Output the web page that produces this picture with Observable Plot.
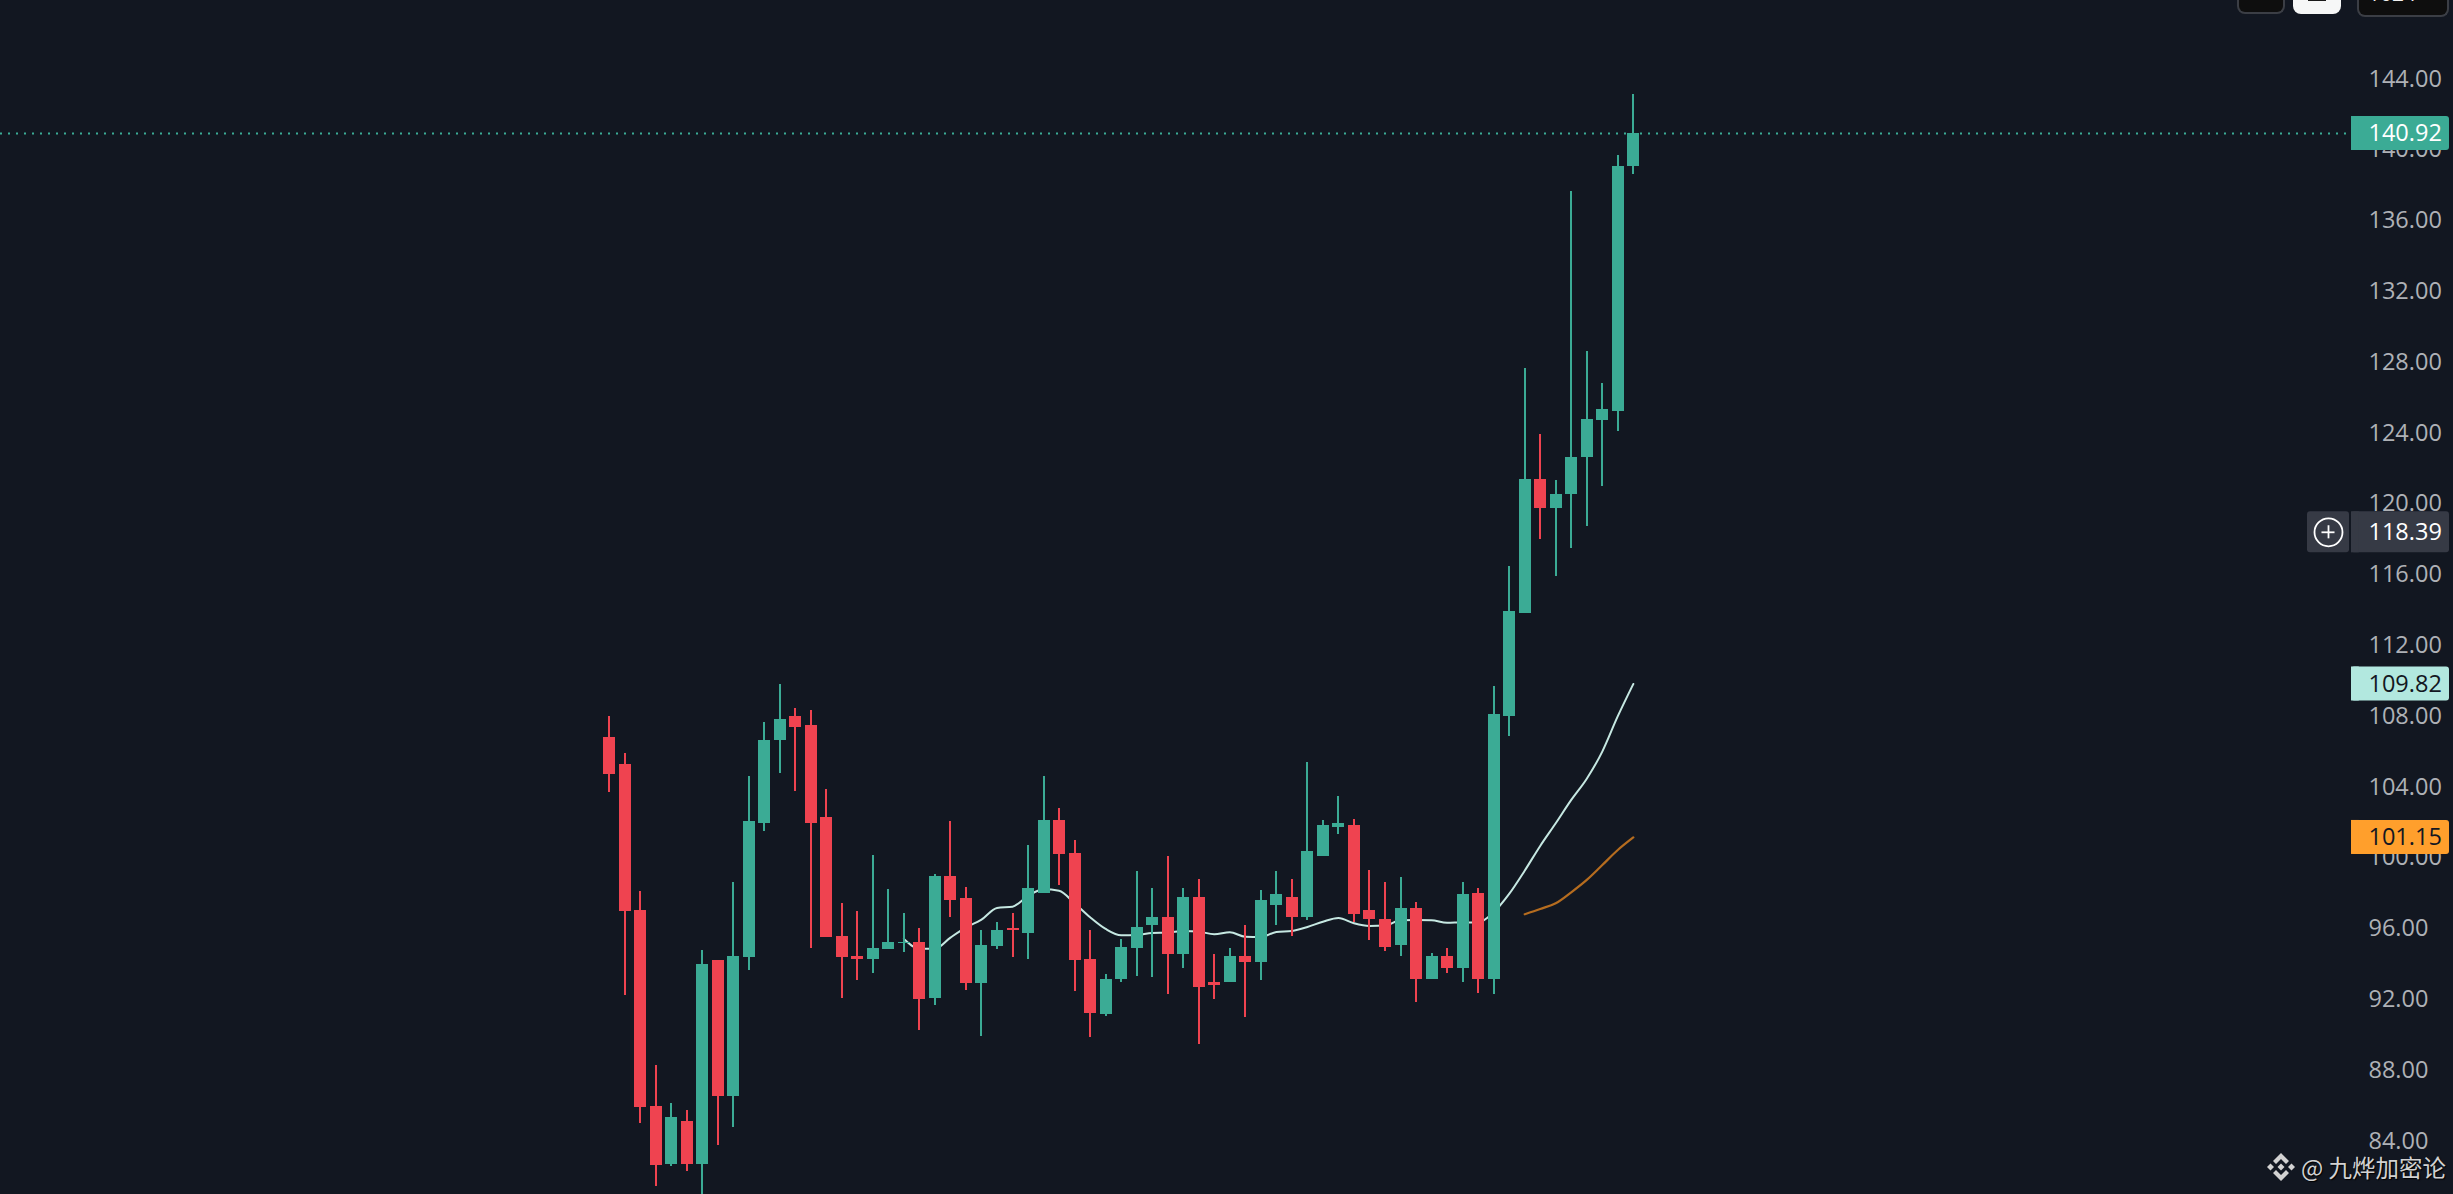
<!DOCTYPE html>
<html>
<head>
<meta charset="utf-8">
<script src="https://cdn.jsdelivr.net/npm/d3@7"></script>
<script src="https://cdn.jsdelivr.net/npm/@observablehq/plot@0.6"></script>
<style>
  html, body { margin: 0; padding: 0; background: #121721; overflow: hidden; }
  #wrap { position: relative; width: 2453px; height: 1194px; overflow: hidden; }
  #chart svg { display: block; }
  .btn { position: absolute; box-sizing: border-box; background: #0e0e0e; border: 2px solid #3b3e45; border-top: none; border-radius: 0 0 8px 8px; }
  #mark { position: absolute; left: 2301px; top: 1150px; color: #d2d2d2; font: 23.5px "Noto Sans CJK SC", sans-serif; white-space: nowrap; text-shadow: 1px 1px 1px #000; line-height: 34px; }
</style>
</head>
<body>
<div id="wrap">
  <div id="chart"></div>
  <div class="btn" style="left:2237px;top:-4px;width:48px;height:18px"></div>
  <div class="btn" style="left:2293px;top:-4px;width:48px;height:18px;background:#f6f7f7;border:none">
    <div style="position:absolute;left:15px;top:0;width:18px;height:5px;background:#1a1a1a"></div>
  </div>
  <div class="btn" style="left:2357px;top:-4px;width:92px;height:21px;color:#f0f0f0;font:21px 'Open Sans',sans-serif;overflow:hidden">
    <div style="position:absolute;left:9px;bottom:11px;line-height:21px">1024</div>
  </div>
  <svg style="position:absolute;left:2267px;top:1153px" width="28" height="28" viewBox="0 0 28 28" fill="#d2d2d2">
    <polygon points="14,0 22,8 19,11 14,6 9,11 6,8"/>
    <polygon points="14,28 22,20 19,17 14,22 9,17 6,20"/>
    <polygon points="14,10.5 17.5,14 14,17.5 10.5,14"/>
    <polygon points="3.5,10.5 7,14 3.5,17.5 0,14"/>
    <polygon points="24.5,10.5 28,14 24.5,17.5 21,14"/>
  </svg>
  <div id="mark">@ 九烨加密论</div>
</div>
<script>
// Candle values, oldest first (one entry per candle)
const opens = [106.77,105.25,97.05,85.97,82.70,85.12,82.70,94.22,86.49,94.34,101.96,106.65,107.96,107.50,102.25,95.53,94.45,94.28,94.84,95.13,95.19,92.03,98.92,97.72,92.88,95.01,96.03,95.70,98.01,102.08,100.22,94.23,91.17,93.15,94.85,96.15,96.60,94.51,97.78,92.93,92.98,94.40,94.11,97.33,97.78,96.65,100.10,101.74,101.85,97.05,96.54,95.02,97.16,93.15,94.40,93.72,97.96,93.10,107.96,113.83,121.40,119.76,120.55,122.64,124.73,125.24,139.03];
const closes = [104.73,96.94,85.91,82.64,85.30,82.70,93.99,86.49,94.40,102.07,106.65,107.79,107.38,101.96,95.48,94.34,94.28,94.90,95.19,95.24,91.97,98.92,97.61,92.88,95.07,95.92,95.92,98.24,102.13,100.16,94.17,91.23,93.15,94.96,96.09,96.65,94.51,97.78,92.70,92.81,94.40,94.11,97.56,97.90,96.65,100.33,101.80,101.91,96.82,96.49,94.96,97.16,93.15,94.40,93.72,97.90,93.10,108.12,113.89,121.40,119.71,120.55,122.64,124.79,125.30,139.03,140.92];
const highs = [107.96,105.87,98.07,88.24,86.14,85.70,94.74,94.22,98.63,104.61,107.62,109.77,108.46,108.35,103.88,97.44,96.99,100.15,98.19,96.88,96.03,99.03,102.07,98.34,95.92,96.32,96.88,100.72,104.62,102.81,100.95,95.87,93.43,95.36,99.20,98.29,100.10,98.29,98.75,94.51,94.85,96.15,98.18,99.20,98.80,105.41,102.13,103.49,102.19,99.31,98.58,98.86,97.50,94.57,94.85,98.58,98.24,109.65,116.43,127.62,123.89,121.29,137.62,128.63,126.77,139.70,143.15];
const lows = [103.71,92.24,85.01,81.41,82.58,82.26,81.00,83.72,84.74,93.61,101.46,104.79,103.77,94.90,95.48,92.03,93.09,93.49,94.84,94.63,90.22,91.68,96.64,92.53,89.93,94.84,94.34,94.28,98.01,98.41,92.47,89.87,91.06,92.98,93.27,93.21,92.30,93.72,89.43,91.97,92.98,91.00,93.04,96.20,95.58,96.43,100.10,101.29,96.32,95.30,94.68,94.40,91.85,93.15,93.49,92.98,92.31,92.25,106.83,113.83,118.01,115.92,117.50,118.69,120.95,124.06,138.63];

// Moving averages: first candle index, then values
const maFastStart = 19;
const maFast = [95.42,94.86,94.86,95.49,96.07,96.51,97.17,97.24,97.84,98.22,98.14,97.43,96.64,95.98,95.62,95.64,95.75,95.77,95.87,95.83,95.68,95.79,95.54,95.53,95.81,95.87,96.09,96.39,96.60,96.30,96.15,96.17,96.47,96.49,96.47,96.33,96.35,96.35,96.92,97.96,99.27,100.67,101.95,103.27,104.47,106.00,108.00,109.82];
const maSlowStart = 59;
const maSlow = [96.81,97.11,97.43,98.05,98.75,99.59,100.44,101.15];

// Price axis and price tags
const yTicks = [84,88,92,96,100,104,108,112,116,120,124,128,132,136,140,144];
const tagValues = [140.92, 118.39, 109.82, 101.15];
const tagLabels = ["140.92", "118.39", "109.82", "101.15"];
const tagFills = ["#3bab95", "#363a45", "#b2e8df", "#ff9f2c"];
const tagInks = ["#ffffff", "#ffffff", "#131722", "#131722"];
const tagHeights = [1.92, 2.32, 1.92, 1.92];

const GREEN = "#3bab95", RED = "#ef4350";
const FONT = "'Open Sans', sans-serif";

const candles = opens.map((o, i) => ({i, o, c: closes[i], h: highs[i], l: lows[i], color: closes[i] >= o ? GREEN : RED}));
const fast = maFast.map((v, k) => ({i: maFastStart + k, v}));
const slow = maSlow.map((v, k) => ({i: maSlowStart + k, v}));
const tags = tagValues.map((v, k) => ({v, label: tagLabels[k], fill: tagFills[k], ink: tagInks[k], h: tagHeights[k]}));

// Layout positions along the index scale (Plot nudges rules by half a pixel)
const PX = 15.52;                     // one candle step in pixels
const xAt = px => (px - 608.5) / PX;
const gutterL = xAt(2351), gutterR = xAt(2449), textX = xAt(2368);
const plusL = xAt(2307), plusR = xAt(2349), plusX = xAt(2328);
const Y_TOP = 78.5;                   // pixel row of the 144 level

const plot = Plot.plot({
  width: 2453, height: 1194,
  marginTop: 0, marginBottom: 0, marginLeft: 0, marginRight: 0,
  style: {background: "#121721", fontFamily: FONT},
  x: {type: "linear", domain: [xAt(0), xAt(2453)], range: [0, 2453], axis: null},
  y: {type: "linear", domain: [144 - (1194 - Y_TOP) / 17.7, 144 + Y_TOP / 17.7], range: [1194, 0], axis: null},
  marks: [
    Plot.axisY(yTicks, {
      anchor: "right", ticks: yTicks, tickSize: 0, tickPadding: 0, dx: -85, textAnchor: "start",
      tickFormat: d => d.toFixed(2), label: null, fill: "#aeb1b6", fontSize: 23.5
    }),
    // dotted last-price line
    Plot.ruleY([tagValues[0]], {x1: xAt(0), x2: gutterL, stroke: GREEN, strokeWidth: 2, strokeDasharray: "2,6"}),
    // moving averages
    Plot.line(fast, {x: "i", y: "v", stroke: "#c6e8e2", strokeWidth: 2, curve: "monotone-x"}),
    Plot.line(slow, {x: "i", y: "v", stroke: "#b56c1f", strokeWidth: 2.2, curve: "monotone-x"}),
    // candles
    Plot.ruleX(candles, {x: "i", y1: "l", y2: "h", stroke: "color", strokeWidth: 2, shapeRendering: "crispEdges"}),
    Plot.ruleX(candles, {x: "i", y1: "o", y2: "c", stroke: "color", strokeWidth: 12, shapeRendering: "crispEdges"}),
    // price tags
    Plot.rect(tags, {x1: gutterL, x2: gutterR, y1: d => d.v - d.h / 2, y2: d => d.v + d.h / 2, fill: "fill", rx: 3}),
    Plot.rect(tags, {x1: gutterL, x2: gutterL + 0.5, y1: d => d.v - d.h / 2, y2: d => d.v + d.h / 2, fill: "fill"}),
    Plot.text(tags, {x: textX, y: "v", text: "label", fill: "ink", textAnchor: "start", fontSize: 23.5}),
    // "add" button beside the crosshair tag
    Plot.rect([tagValues[1]], {x1: plusL, x2: plusR, y1: d => d - 1.16, y2: d => d + 1.16, fill: "#363a45", rx: 3}),
    Plot.dot([tagValues[1]], {x: plusX, y: d => d, r: 14, stroke: "#ffffff", strokeWidth: 1.8, fill: "none"}),
    Plot.ruleY([tagValues[1]], {x1: plusX - 0.42, x2: plusX + 0.42, stroke: "#ffffff", strokeWidth: 1.8}),
    Plot.ruleX([plusX], {y1: tagValues[1] - 0.37, y2: tagValues[1] + 0.37, stroke: "#ffffff", strokeWidth: 1.8})
  ]
});
document.getElementById("chart").appendChild(plot);
</script>
</body>
</html>
